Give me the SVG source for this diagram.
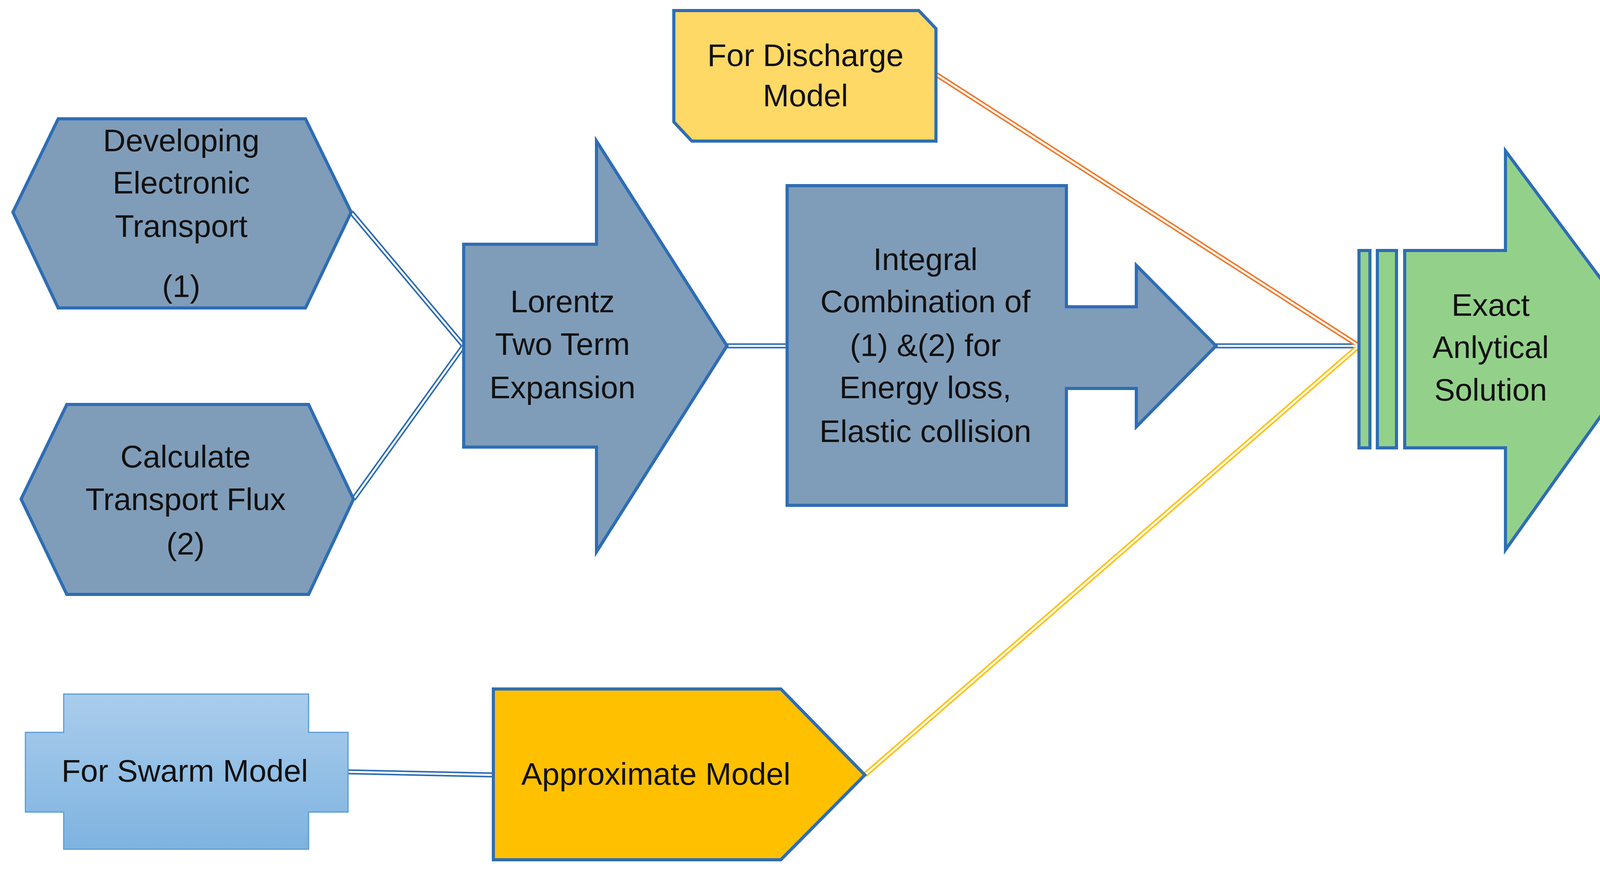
<svg xmlns="http://www.w3.org/2000/svg" width="4259" height="2239" viewBox="0 0 4259 2239">
<style>
.n{stroke:#2E6DB4;stroke-width:8;stroke-linejoin:miter}
.g{fill:#7F9DB9}
.t{font-family:"Liberation Sans",Arial,sans-serif;font-size:80px;fill:#111;text-anchor:middle}
.o{fill:none;stroke-width:13}
.i{fill:none;stroke:#fff;stroke-width:5}
</style>
<defs>
<linearGradient id="sw" x1="0" y1="0" x2="0" y2="1"><stop offset="0" stop-color="#AACDEC"/><stop offset="1" stop-color="#7EB3E0"/></linearGradient>
</defs>
<rect width="4259" height="2239" fill="#fff"/>
<g id="connectors">
<g stroke="#2E6DB4"><path class="o" d="M899,543 L1187,885 M905,1277 L1187,885 M1861,885 L2015,885 M3113,885 L3479,885 M891,1975 L1263,1983"/></g>
<path class="o" stroke="#ED7D31" d="M2396,190 L3479,885"/>
<path class="o" stroke="#FFC000" d="M2214,1983 L3479,885"/>
<path class="i" d="M899,543 L1187,885 M905,1277 L1187,885 M1861,885 L2015,885 M3113,885 L3479,885 M891,1975 L1263,1983 M2396,190 L3479,885 M2214,1983 L3479,885"/>
</g>
<g id="hex1"><polygon class="n g" points="33,543 149,304 782,304 899,543 782,788 149,788"/>
<text class="t"><tspan x="464" y="387">Developing</tspan><tspan x="464" y="495">Electronic</tspan><tspan x="464" y="606">Transport</tspan><tspan x="464" y="760">(1)</tspan></text></g>
<g id="hex2"><polygon class="n g" points="54,1277 171,1035 790,1035 905,1277 790,1521 171,1521"/>
<text class="t"><tspan x="475" y="1196">Calculate</tspan><tspan x="475" y="1305">Transport Flux</tspan><tspan x="475" y="1419">(2)</tspan></text></g>
<g id="lorentz"><polygon class="n g" points="1187,625 1527,625 1527,361 1861,885 1527,1412 1527,1144 1187,1144"/>
<text class="t"><tspan x="1440" y="799">Lorentz</tspan><tspan x="1440" y="908">Two Term</tspan><tspan x="1440" y="1019">Expansion</tspan></text></g>
<g id="integral"><polygon class="n g" points="2015,475 2730,475 2730,785 2909,785 2909,679 3113,885 2909,1092 2909,994 2730,994 2730,1293 2015,1293"/>
<text class="t"><tspan x="2369" y="691">Integral</tspan><tspan x="2369" y="799">Combination of</tspan><tspan x="2369" y="911">(1) &amp;(2) for</tspan><tspan x="2369" y="1019">Energy loss,</tspan><tspan x="2369" y="1131">Elastic collision</tspan></text></g>
<g id="exact"><rect class="n" fill="#93D18A" x="3479" y="641" width="28" height="505"/><rect class="n" fill="#93D18A" x="3526" y="641" width="49" height="505"/>
<polygon class="n" fill="#93D18A" points="3596,641 3854,641 3854,386 4226,885 3854,1407 3854,1146 3596,1146"/>
<text class="t"><tspan x="3816" y="808">Exact</tspan><tspan x="3816" y="916">Anlytical</tspan><tspan x="3816" y="1025">Solution</tspan></text></g>
<g id="discharge"><polygon class="n" fill="#FFD966" points="1725,27 2352,27 2396,73 2396,361 1771,361 1725,312"/>
<text class="t"><tspan x="2062" y="169">For Discharge</tspan><tspan x="2062" y="272">Model</tspan></text></g>
<g id="swarm"><polygon stroke="#5B9BD5" stroke-width="3" fill="url(#sw)" points="163,1776 790,1776 790,1874 891,1874 891,2078 790,2078 790,2173 163,2173 163,2078 65,2078 65,1874 163,1874"/>
<text class="t" x="473" y="2000">For Swarm Model</text></g>
<g id="approx"><polygon class="n" fill="#FFC000" points="1263,1763 1999,1763 2214,1983 1999,2200 1263,2200"/>
<text class="t" x="1679" y="2008">Approximate Model</text></g>
</svg>
